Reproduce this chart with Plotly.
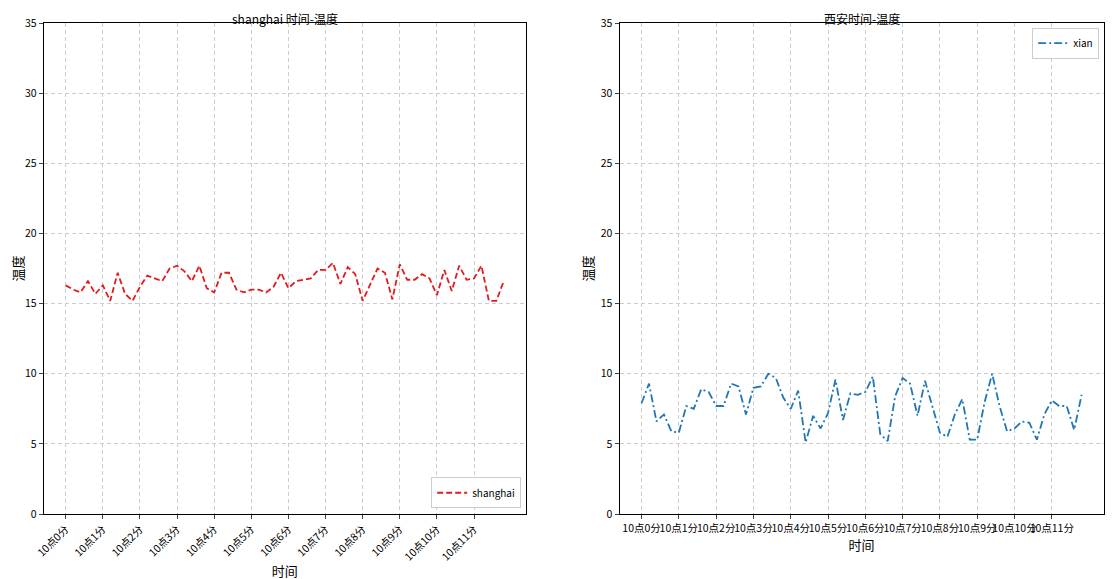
import plotly.graph_objects as go

minutes = list(range(60))
tick_vals = list(range(0, 60, 5))
tick_text = [f"10点{i}分" for i in range(12)]

shanghai = [16.3, 16.0, 15.8, 16.6, 15.7, 16.3, 15.2, 17.2, 15.7, 15.2,
            16.2, 17.0, 16.8, 16.6, 17.5, 17.7, 17.3, 16.6, 17.7, 16.1,
            15.8, 17.2, 17.2, 16.0, 15.8, 16.0, 16.0, 15.8, 16.2, 17.2,
            16.1, 16.6, 16.7, 16.8, 17.4, 17.4, 17.9, 16.4, 17.6, 17.1,
            15.2, 16.3, 17.5, 17.2, 15.3, 17.8, 16.7, 16.7, 17.1, 16.8,
            15.6, 17.4, 15.9, 17.7, 16.7, 16.8, 17.7, 15.2, 15.2, 16.6]
xian = [7.9, 9.3, 6.6, 7.1, 5.9, 5.8, 7.7, 7.5, 8.9, 8.7,
        7.7, 7.7, 9.3, 9.1, 7.1, 9.0, 9.1, 10.0, 9.7, 8.3,
        7.5, 8.8, 5.1, 7.0, 6.1, 7.2, 9.6, 6.7, 8.6, 8.5,
        8.7, 9.8, 5.7, 5.2, 8.4, 9.7, 9.3, 7.0, 9.5, 7.7,
        5.8, 5.5, 7.1, 8.2, 5.3, 5.3, 8.0, 10.0, 7.7, 5.9,
        6.1, 6.6, 6.5, 5.3, 7.1, 8.1, 7.7, 7.7, 6.0, 8.5]

font = "Noto Sans CJK SC"
fig = go.Figure()
fig.add_trace(go.Scatter(x=minutes, y=shanghai, name="shanghai", mode="lines", showlegend=True,
                         line=dict(color="#e31a1c", dash="6px,3px", width=1.8),
                         xaxis="x", yaxis="y", legend="legend"))
fig.add_trace(go.Scatter(x=minutes, y=xian, name="xian", mode="lines", showlegend=True,
                         line=dict(color="#1f77b4", dash="8px,3px,2px,3px", width=1.8),
                         xaxis="x2", yaxis="y2", legend="legend2"))

ax = dict(showline=True, linecolor="black", mirror=True, ticks="outside", ticklen=4,
          showgrid=True, gridcolor="#cccccc", griddash="4px,3px", zeroline=False,
          tickfont=dict(size=10.5), automargin=False)
fig.update_layout(
    width=1118, height=579, margin=dict(l=0, r=0, t=0, b=0),
    plot_bgcolor="white", paper_bgcolor="white",
    font=dict(family=font, color="black", size=11),
    xaxis=dict(ax, domain=[0.032, 0.463], range=[-2.95, 61.95], tickvals=tick_vals,
               ticktext=tick_text, tickangle=-45, title=dict(text="时间", standoff=4)),
    yaxis=dict(ax, domain=[0.126, 0.974], range=[0, 35], dtick=5,
               title=dict(text="温度", standoff=4)),
    xaxis2=dict(ax, domain=[0.547, 0.980], range=[-2.95, 61.95], tickvals=tick_vals,
                ticktext=tick_text, tickangle=0, anchor="y2", title=dict(text="时间", standoff=0)),
    yaxis2=dict(ax, domain=[0.126, 0.974], range=[0, 35], dtick=5, anchor="x2",
                title=dict(text="温度", standoff=4)),
    legend=dict(x=0.459, y=0.136, xanchor="right", yanchor="bottom",
                bordercolor="#cccccc", borderwidth=1, font=dict(size=10)),
    legend2=dict(x=0.976, y=0.966, xanchor="right", yanchor="top",
                 bordercolor="#cccccc", borderwidth=1, font=dict(size=10)),
    annotations=[
        dict(text="shanghai 时间-温度", x=0.2475, y=1.0, xref="paper", yref="paper",
             xanchor="center", yanchor="top", showarrow=False, font=dict(size=12)),
        dict(text="西安时间-温度", x=0.7635, y=1.0, xref="paper", yref="paper",
             xanchor="center", yanchor="top", showarrow=False, font=dict(size=12)),
    ],
)
fig.write_html("out.html")
